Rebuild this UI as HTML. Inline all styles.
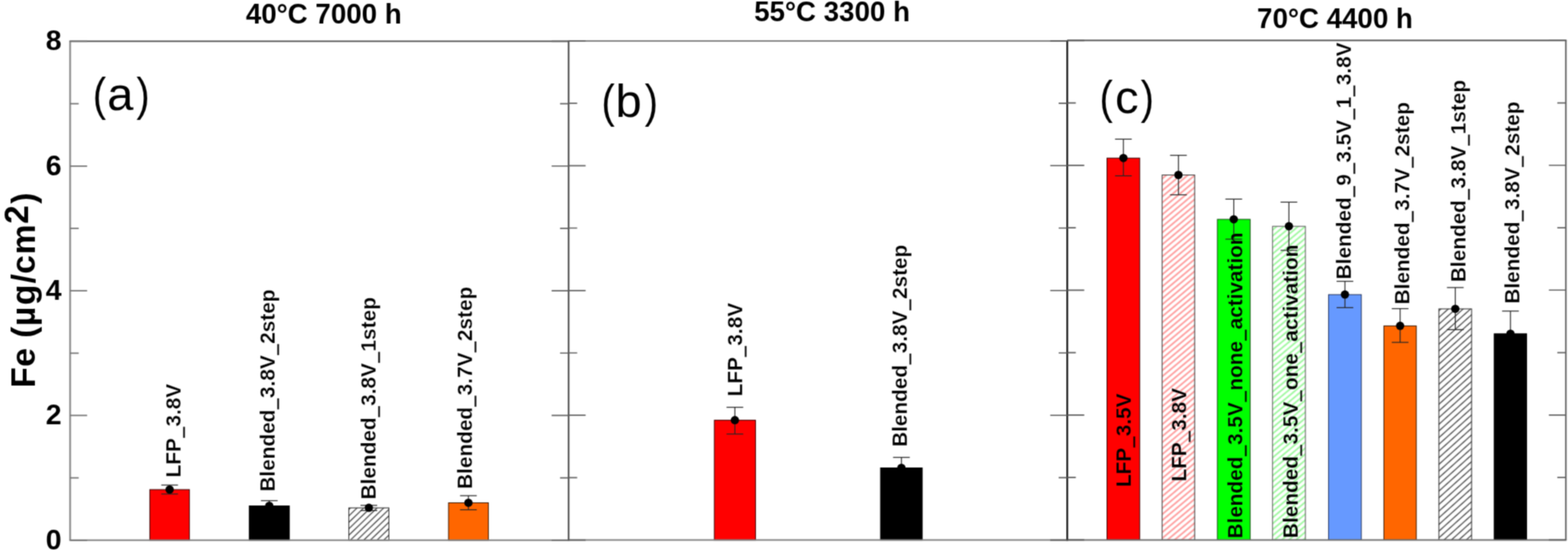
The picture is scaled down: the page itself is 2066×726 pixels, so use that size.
<!DOCTYPE html>
<html lang="en"><head><meta charset="utf-8"><title>Fe dissolution</title>
<style>html,body{margin:0;padding:0;background:#fff}body{width:2066px;height:726px;overflow:hidden}svg{display:block}text{font-family:"Liberation Sans",sans-serif;fill:#000}.b{font-weight:700}.u{stroke:#000;stroke-width:1.3px;font-size:23px}</style></head><body>
<svg width="2066" height="726" viewBox="0 0 2066 726">
<defs>
<pattern id="hg" patternUnits="userSpaceOnUse" width="6.1" height="6.1" patternTransform="rotate(-44)"><rect width="6.1" height="6.1" fill="#fff"/><line x1="0" y1="3.05" x2="6.1" y2="3.05" stroke="#2c2c2c" stroke-width="1.25"/></pattern>
<pattern id="hr" patternUnits="userSpaceOnUse" width="6.05" height="6.05" patternTransform="rotate(-40)"><rect width="6.05" height="6.05" fill="#fff"/><line x1="0" y1="3.025" x2="6.05" y2="3.025" stroke="#ff9a9a" stroke-width="2.15"/></pattern>
<pattern id="hn" patternUnits="userSpaceOnUse" width="6.05" height="6.05" patternTransform="rotate(-40)"><rect width="6.05" height="6.05" fill="#fff"/><line x1="0" y1="3.025" x2="6.05" y2="3.025" stroke="#9af89a" stroke-width="2.1"/></pattern>
<pattern id="hg2" patternUnits="userSpaceOnUse" width="6.54" height="6.54" patternTransform="rotate(-42)"><rect width="6.54" height="6.54" fill="#fff"/><line x1="0" y1="3.27" x2="6.54" y2="3.27" stroke="#2c2c2c" stroke-width="1.25"/></pattern>
<filter id="soft" x="0" y="0" width="2066" height="726" filterUnits="userSpaceOnUse" color-interpolation-filters="sRGB"><feConvolveMatrix order="3" kernelMatrix="0.0439 0.1217 0.0439 0.1217 0.3376 0.1217 0.0439 0.1217 0.0439" divisor="1" edgeMode="duplicate" preserveAlpha="true"/></filter>
</defs>
<g filter="url(#soft)">
<rect width="2066" height="726" fill="#fff"/>
<g stroke-width="1.05">
<rect x="197.4" y="645.1" width="52.2" height="66.7" fill="#ff0000" stroke="#3a0000"/>
<rect x="328.4" y="666.6" width="52.8" height="45.2" fill="#000000" stroke="#000"/>
<rect x="459.6" y="669.2" width="52.8" height="42.6" fill="url(#hg)" stroke="#2a2a2a"/>
<rect x="591.0" y="662.5" width="52.5" height="49.3" fill="#ff6600" stroke="#3a1800"/>
<rect x="941.2" y="553.7" width="54.3" height="157.9" fill="#ff0000" stroke="#3a0000"/>
<rect x="1160.2" y="616.5" width="54.9" height="95.1" fill="#000000" stroke="#000"/>
<rect x="1458.6" y="208.3" width="43.1" height="503.1" fill="#ff0000" stroke="#3a0000"/>
<rect x="1531.2" y="230.6" width="42.9" height="480.8" fill="url(#hr)" stroke="#333"/>
<rect x="1604.0" y="289.0" width="43.2" height="422.4" fill="#00ff00" stroke="#1a4a1a"/>
<rect x="1676.7" y="298.2" width="43.3" height="413.2" fill="url(#hn)" stroke="#555"/>
<rect x="1750.5" y="388.2" width="43.2" height="323.2" fill="#6699ff" stroke="#223460"/>
<rect x="1823.4" y="429.4" width="42.7" height="282.0" fill="#ff6600" stroke="#3a1800"/>
<rect x="1895.9" y="407.0" width="43.1" height="304.4" fill="url(#hg2)" stroke="#2a2a2a"/>
<rect x="1968.8" y="439.8" width="42.7" height="271.6" fill="#000000" stroke="#000"/>
</g>
<g fill="none">
<path d="M91.4 54.4H749.2" stroke="#444" stroke-width="1.7"/>
<path d="M749.2 53.9H1406.2" stroke="#808080" stroke-width="2"/>
<path d="M1406.2 53.3H2064.2" stroke="#585858" stroke-width="1.9"/>
<path d="M91.4 711.8H749.2" stroke="#808080" stroke-width="2"/>
<path d="M749.2 711.6H1406.2" stroke="#808080" stroke-width="2"/>
<path d="M1406.2 711.4H2064.2" stroke="#707070" stroke-width="2"/>
<path d="M92.4 54.4V711.8" stroke="#858585" stroke-width="2.2"/>
<path d="M749.2 53.6V712.5999999999999" stroke="#505050" stroke-width="2.2"/>
<path d="M1406.2 53.1V712.4" stroke="#1c1c1c" stroke-width="2.4"/>
<path d="M2063.2 53.3V711.4" stroke="#686868" stroke-width="2.1"/>
<path d="M92.4 711.8h22.4M92.4 629.6h11.3M92.4 547.4h22.4M92.4 465.3h11.3M92.4 383.1h22.4M92.4 300.9h11.3M92.4 218.8h22.4M92.4 136.6h11.3M92.4 54.4h22.4" stroke="#707070" stroke-width="1.7"/>
<path d="M749.2 711.8h-22.4M749.2 629.6h-11.3M749.2 547.4h-22.4M749.2 465.3h-11.3M749.2 383.1h-22.4M749.2 300.9h-11.3M749.2 218.8h-22.4M749.2 136.6h-11.3M749.2 54.4h-22.4" stroke="#606060" stroke-width="1.6"/>
<path d="M749.2 711.6h22.4M749.2 629.4h11.3M749.2 547.2h22.4M749.2 465.0h11.3M749.2 382.8h22.4M749.2 300.5h11.3M749.2 218.3h22.4M749.2 136.1h11.3M749.2 53.9h22.4" stroke="#606060" stroke-width="1.7"/>
<path d="M1406.2 711.6h-22.4M1406.2 629.4h-11.3M1406.2 547.2h-22.4M1406.2 465.0h-11.3M1406.2 382.8h-22.4M1406.2 300.5h-11.3M1406.2 218.3h-22.4M1406.2 136.1h-11.3M1406.2 53.9h-22.4" stroke="#585858" stroke-width="1.6"/>
<path d="M1406.2 711.4h22.4M1406.2 629.1h11.3M1406.2 546.9h22.4M1406.2 464.6h11.3M1406.2 382.3h22.4M1406.2 300.1h11.3M1406.2 217.8h22.4M1406.2 135.6h11.3M1406.2 53.3h22.4" stroke="#585858" stroke-width="1.7"/>
<path d="M2063.2 711.4h-22.4M2063.2 629.1h-11.3M2063.2 546.9h-22.4M2063.2 464.6h-11.3M2063.2 382.3h-22.4M2063.2 300.1h-11.3M2063.2 217.8h-22.4M2063.2 135.6h-11.3M2063.2 53.3h-22.4" stroke="#606060" stroke-width="1.6"/>
</g>
<g stroke="#262626" stroke-width="1.25" fill="none">
<path d="M223.5 639.0V650.9M212.5 639.0h22M212.5 650.9h22"/>
<path d="M354.8 659.5V666.3M343.8 659.5h22"/>
<path d="M486.0 665.8V672.5M475.0 665.8h22M475.0 672.5h22"/>
<path d="M617.2 653.0V671.5M606.2 653.0h22M606.2 671.5h22"/>
<path d="M968.3 536.7V571.9M957.3 536.7h22M957.3 571.9h22"/>
<path d="M1187.7 602.6V616.2M1176.7 602.6h22"/>
<path d="M1480.2 183.4V231.5M1469.2 183.4h22M1469.2 231.5h22"/>
<path d="M1552.7 204.5V256.6M1541.7 204.5h22M1541.7 256.6h22"/>
<path d="M1625.6 262.4V315.1M1614.6 262.4h22M1614.6 315.1h22"/>
<path d="M1698.3 266.3V329.8M1687.3 266.3h22M1687.3 329.8h22"/>
<path d="M1772.1 370.5V405.3M1761.1 370.5h22M1761.1 405.3h22"/>
<path d="M1844.8 406.7V451.1M1833.8 406.7h22M1833.8 451.1h22"/>
<path d="M1917.5 378.9V434.4M1906.5 378.9h22M1906.5 434.4h22"/>
<path d="M1990.2 409.9V439.5M1979.2 409.9h22"/>
</g>
<g fill="#000">
<circle cx="223.5" cy="645.0" r="5.5"/>
<circle cx="354.8" cy="666.5" r="5.5"/>
<circle cx="486.0" cy="669.1" r="5.5"/>
<circle cx="617.2" cy="662.4" r="5.5"/>
<circle cx="968.3" cy="553.6" r="5.5"/>
<circle cx="1187.7" cy="616.4" r="5.5"/>
<circle cx="1480.2" cy="208.2" r="5.5"/>
<circle cx="1552.7" cy="230.5" r="5.5"/>
<circle cx="1625.6" cy="288.9" r="5.5"/>
<circle cx="1698.3" cy="298.1" r="5.5"/>
<circle cx="1772.1" cy="388.1" r="5.5"/>
<circle cx="1844.8" cy="429.3" r="5.5"/>
<circle cx="1917.5" cy="406.9" r="5.5"/>
<circle cx="1990.2" cy="439.7" r="5.5"/>
</g>
<g class="b" font-size="37.5" text-anchor="middle">
<text x="70.7" y="723.6">0</text>
<text x="70.7" y="559.2">2</text>
<text x="70.7" y="394.9">4</text>
<text x="70.7" y="230.6">6</text>
<text x="70.7" y="66.2">8</text>
</g>
<text class="b" font-size="44.5" transform="translate(45.9 511) rotate(-90)">F<tspan dx="0.5">e</tspan> <tspan dx="1">(</tspan><tspan dx="0.65">µ</tspan><tspan dx="2">g</tspan><tspan dx="1.4">/</tspan><tspan dx="0.1">c</tspan><tspan dx="1.1">m</tspan><tspan font-size="44" dx="0.55" dy="-9.4">2</tspan><tspan dx="2.1" dy="9.4">)</tspan></text>
<g class="b" font-size="36.5" text-anchor="middle">
<text x="426.6" y="30.8">40°C 7000 h</text>
<text x="1096.3" y="28.3">55°C 3300 h</text>
<text x="1759.0" y="36.9">70°C 4400 h</text>
</g>
<g font-size="62">
<text x="122.3" y="145.2"><tspan textLength="17.5" lengthAdjust="spacingAndGlyphs">(</tspan><tspan dx="1.5">a</tspan><tspan dx="3.9" textLength="17.5" lengthAdjust="spacingAndGlyphs">)</tspan></text>
<text x="792.4" y="153.5"><tspan textLength="17.5" lengthAdjust="spacingAndGlyphs">(</tspan><tspan dx="1.2">b</tspan><tspan dx="3.8" textLength="17.5" lengthAdjust="spacingAndGlyphs">)</tspan></text>
<text x="1448.7" y="149.2"><tspan textLength="17.5" lengthAdjust="spacingAndGlyphs">(</tspan><tspan dx="3.1">c</tspan><tspan dx="2.8" textLength="17.5" lengthAdjust="spacingAndGlyphs">)</tspan></text>
</g>
<g class="b" font-size="27.4" stroke-width="0.3">
<text transform="translate(237.5 629.0) rotate(-90)" stroke="#fff">LFP<tspan class="u" dx="1.2" dy="2.1">_</tspan><tspan dx="1.2" dy="-2.1">3.8V</tspan></text>
<text transform="translate(361.7 647.7) rotate(-90)" stroke="#fff">Blended<tspan class="u" dx="1.2" dy="2.1">_</tspan><tspan dx="1.2" dy="-2.1">3.8V</tspan><tspan class="u" dx="1.2" dy="2.1">_</tspan><tspan dx="1.2" dy="-2.1">2step</tspan></text>
<text transform="translate(495.0 658.0) rotate(-90)" stroke="#fff">Blended<tspan class="u" dx="1.2" dy="2.1">_</tspan><tspan dx="1.2" dy="-2.1">3.8V</tspan><tspan class="u" dx="1.2" dy="2.1">_</tspan><tspan dx="1.2" dy="-2.1">1step</tspan></text>
<text transform="translate(621.5 644.2) rotate(-90)" stroke="#fff">Blended<tspan class="u" dx="1.2" dy="2.1">_</tspan><tspan dx="1.2" dy="-2.1">3.7V</tspan><tspan class="u" dx="1.2" dy="2.1">_</tspan><tspan dx="1.2" dy="-2.1">2step</tspan></text>
<text transform="translate(978.1 522.3) rotate(-90)" stroke="#fff">LFP<tspan class="u" dx="1.2" dy="2.1">_</tspan><tspan dx="1.2" dy="-2.1">3.8V</tspan></text>
<text transform="translate(1194.8 588.8) rotate(-90)" stroke="#fff">Blended<tspan class="u" dx="1.2" dy="2.1">_</tspan><tspan dx="1.2" dy="-2.1">3.8V</tspan><tspan class="u" dx="1.2" dy="2.1">_</tspan><tspan dx="1.2" dy="-2.1">2step</tspan></text>
<text transform="translate(1490.0 641.7) rotate(-90)" stroke="#f00">LFP<tspan class="u" dx="1.2" dy="2.1">_</tspan><tspan dx="1.2" dy="-2.1">3.5V</tspan></text>
<text transform="translate(1562.5 634.4) rotate(-90)" stroke="#ffd4d4">LFP<tspan class="u" dx="1.2" dy="2.1">_</tspan><tspan dx="1.2" dy="-2.1">3.8V</tspan></text>
<text transform="translate(1636.6 709.5) rotate(-90)" stroke="#0f0">Blended<tspan class="u" dx="1.2" dy="2.1">_</tspan><tspan dx="1.2" dy="-2.1">3.5V</tspan><tspan class="u" dx="1.2" dy="2.1">_</tspan><tspan dx="1.2" dy="-2.1">none</tspan><tspan class="u" dx="1.2" dy="2.1">_</tspan><tspan dx="1.2" dy="-2.1">activation</tspan></text>
<text transform="translate(1710.0 708.9) rotate(-90)" stroke="#d4fcd4">Blended<tspan class="u" dx="1.2" dy="2.1">_</tspan><tspan dx="1.2" dy="-2.1">3.5V</tspan><tspan class="u" dx="1.2" dy="2.1">_</tspan><tspan dx="1.2" dy="-2.1">one</tspan><tspan class="u" dx="1.2" dy="2.1">_</tspan><tspan dx="1.2" dy="-2.1">activation</tspan></text>
<text transform="translate(1780.3 368.0) rotate(-90)" stroke="#fff">Blended<tspan class="u" dx="1.2" dy="2.1">_</tspan><tspan dx="1.2" dy="-2.1">9</tspan><tspan class="u" dx="1.2" dy="2.1">_</tspan><tspan dx="1.2" dy="-2.1">3.5V</tspan><tspan class="u" dx="1.2" dy="2.1">_</tspan><tspan dx="1.2" dy="-2.1">1</tspan><tspan class="u" dx="1.2" dy="2.1">_</tspan><tspan dx="1.2" dy="-2.1">3.8V</tspan></text>
<text transform="translate(1856.7 401.0) rotate(-90)" stroke="#fff">Blended<tspan class="u" dx="1.2" dy="2.1">_</tspan><tspan dx="1.2" dy="-2.1">3.7V</tspan><tspan class="u" dx="1.2" dy="2.1">_</tspan><tspan dx="1.2" dy="-2.1">2step</tspan></text>
<text transform="translate(1931.2 371.7) rotate(-90)" stroke="#fff">Blended<tspan class="u" dx="1.2" dy="2.1">_</tspan><tspan dx="1.2" dy="-2.1">3.8V</tspan><tspan class="u" dx="1.2" dy="2.1">_</tspan><tspan dx="1.2" dy="-2.1">1step</tspan></text>
<text transform="translate(2001.7 400.1) rotate(-90)" stroke="#fff">Blended<tspan class="u" dx="1.2" dy="2.1">_</tspan><tspan dx="1.2" dy="-2.1">3.8V</tspan><tspan class="u" dx="1.2" dy="2.1">_</tspan><tspan dx="1.2" dy="-2.1">2step</tspan></text>
</g>
</g>
</svg></body></html>
